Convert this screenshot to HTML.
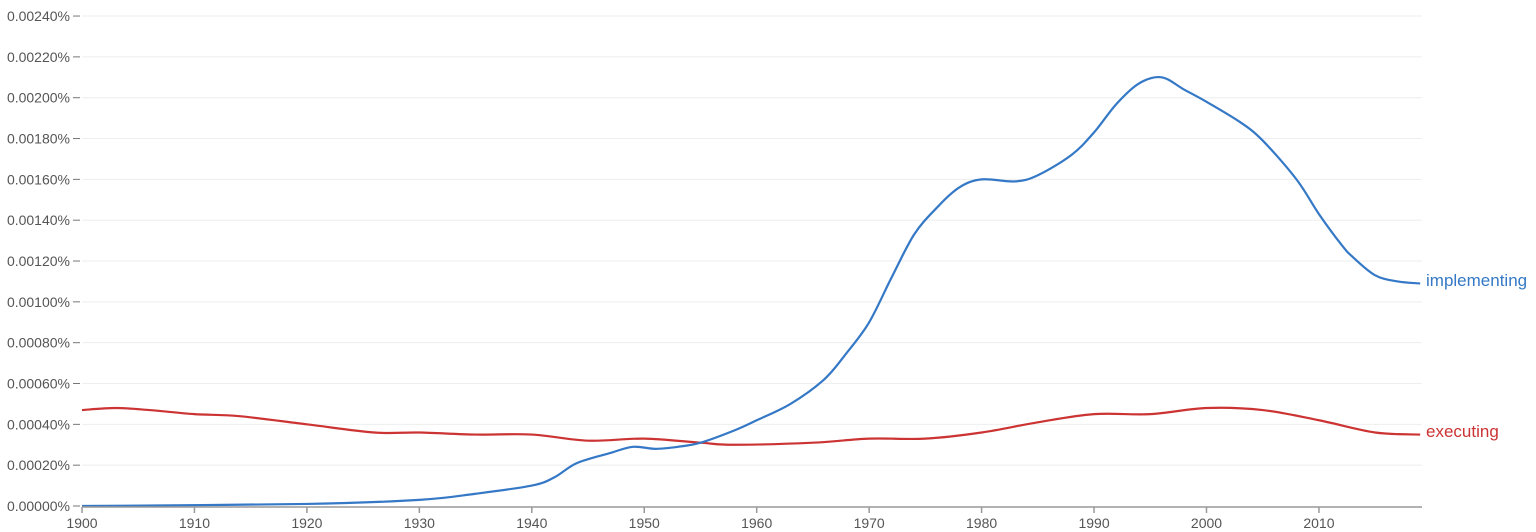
<!DOCTYPE html>
<html><head><meta charset="utf-8"><style>
html,body{margin:0;padding:0;background:#fff;}
svg{display:block;font-family:"Liberation Sans",sans-serif;}
</style></head><body>
<svg id="c" width="1536" height="532" xmlns="http://www.w3.org/2000/svg">
<g id="grid"></g>
<path id="red" fill="none" stroke="#cc3333" stroke-width="2.2"/>
<path id="blue" fill="none" stroke="#3478c6" stroke-width="2.2"/>
<line x1="82" y1="507" x2="1422" y2="507" stroke="#999" stroke-width="1.5"/>
<text x="1426" y="286" font-size="17" fill="#3478c6">implementing</text>
<text x="1426" y="437" font-size="17" fill="#cc3333">executing</text>
</svg>
<script>
var X=function(y){return 82+11.245*(y-1900);};
var Y=function(v){return 506-v*204150;};
var g=document.getElementById('grid'),h="";
for(var i=0;i<=12;i++){var y=506-i*40.83;var v=(i*0.0002).toFixed(5)+"%";
 if(i>0)h+='<line x1="82" y1="'+y+'" x2="1422" y2="'+y+'" stroke="#eee" stroke-width="1"/>';
 h+='<text x="70" y="'+(y+5)+'" font-size="14" fill="#555" text-anchor="end">'+v+'</text>';
 h+='<line x1="73" y1="'+y+'" x2="80" y2="'+y+'" stroke="#777" stroke-width="1"/>';}
for(var yr=1900;yr<=2010;yr+=10){var x=X(yr);
 h+='<line x1="'+x+'" y1="507" x2="'+x+'" y2="513" stroke="#999" stroke-width="1.5"/>';
 h+='<text x="'+x+'" y="528" font-size="14" fill="#555" text-anchor="middle">'+yr+'</text>';}
g.innerHTML=h;
function path(d){var p=d.map(function(a){return [X(a[0]),Y(a[1]*1e-5)];});
 var s="M"+p[0][0]+","+p[0][1];
 for(var i=0;i<p.length-1;i++){var p0=p[i-1]||p[i],p1=p[i],p2=p[i+1],p3=p[i+2]||p2;
  s+=" C"+(p1[0]+(p2[0]-p0[0])/6)+","+(p1[1]+(p2[1]-p0[1])/6)+" "+(p2[0]-(p3[0]-p1[0])/6)+","+(p2[1]-(p3[1]-p1[1])/6)+" "+p2[0]+","+p2[1];}
 return s;}
var blue=[[1900,0],[1920,1],[1930,3],[1935,6],[1940,10],[1942,14],[1944,21],[1947,26],[1949,29],[1951,28],[1953,29],[1955,31],[1958,37],[1960,42],[1963,50],[1966,62],[1968,75],[1970,90],[1972,112],[1974,133],[1976,146],[1978,156],[1980,160],[1983,159],[1985,162],[1988,172],[1990,183],[1992,197],[1994,207],[1996,210],[1998,204],[2000,198],[2003,188],[2005,179],[2008,160],[2010,143],[2012,128],[2013,122],[2015,113],[2017,110],[2019,109]];
var red=[[1900,47],[1903,48],[1906,47],[1910,45],[1914,44],[1920,40],[1926,36],[1930,36],[1935,35],[1940,35],[1945,32],[1950,33],[1955,31],[1958,30],[1965,31],[1970,33],[1975,33],[1980,36],[1985,41],[1990,45],[1995,45],[2000,48],[2005,47],[2010,42],[2015,36],[2019,35]];
document.getElementById('blue').setAttribute('d',path(blue));
document.getElementById('red').setAttribute('d',path(red));
</script>
</body></html>
